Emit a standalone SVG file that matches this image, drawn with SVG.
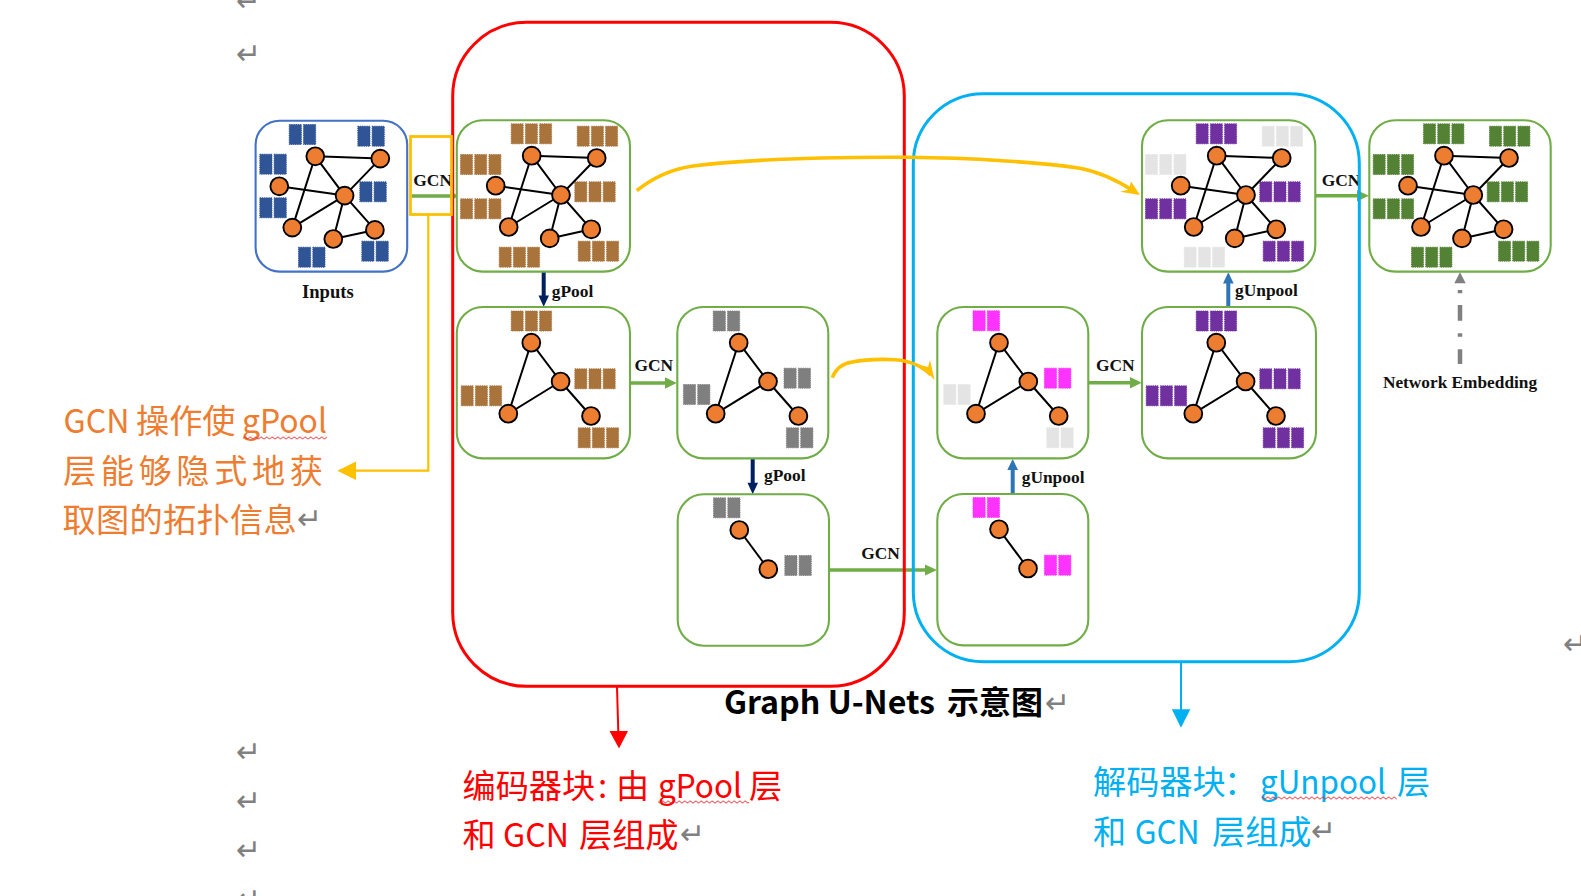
<svg xmlns="http://www.w3.org/2000/svg" xmlns:xlink="http://www.w3.org/1999/xlink" width="1581" height="896" viewBox="0 0 1581 896">
<style>
.box{fill:#fff;stroke:#70AD47;stroke-width:2.1}
.edge{stroke:#000;stroke-width:2;fill:none}
.dot{fill:#ED7D31;stroke:#000;stroke-width:1.9}
.cell{fill:currentColor;stroke:currentColor;stroke-width:1;stroke-dasharray:1.1 1.1}
.brown{color:#A9733C}.blue{color:#2F5597}.purple{color:#7030A0}.pale{color:#E4E4E4}.green{color:#548235}.gray{color:#7F7F7F}.pink{color:#FF33FF}
.lab{font-family:"Liberation Serif","Times New Roman",serif;font-weight:bold;font-size:17.4px;fill:#111}
.cn{font-family:"Noto Sans CJK SC","Noto Sans",sans-serif;font-size:33.2px;font-weight:400}
.ret{font-family:"Liberation Sans","DejaVu Sans",sans-serif;font-size:30px;fill:#808080}
.or{fill:#ED7D31}.rd{fill:#FF0000}.cy{fill:#00B0F0}
.title{font-family:"Noto Sans CJK SC","Noto Sans",sans-serif;font-size:32px;font-weight:700;fill:#000}
.gl{stroke:#70AD47;stroke-width:3.4;fill:none}
.fr{fill:none;stroke-width:3}
</style>
<defs>
<g id="b3"><rect class="cell" x="0.5" y="0.5" width="12" height="20"/><rect class="cell" x="14.7" y="0.5" width="12" height="20"/><rect class="cell" x="28.9" y="0.5" width="12" height="20"/></g>
<g id="b2"><rect class="cell" x="0.5" y="0.5" width="12.2" height="20"/><rect class="cell" x="14.8" y="0.5" width="12.2" height="20"/></g>
<g id="g7">
<path class="edge" d="M0,0L65,2.3M0,0L29.3,39.3M0,0L-23,71.3M-36,30L29.3,39.3M65,2.3L29.3,39.3M29.3,39.3L-23,71.3M29.3,39.3L18,82.7M29.3,39.3L59.6,73.6M18,82.7L59.6,73.6"/>
<circle class="dot" r="8.9"/><circle class="dot" cx="65" cy="2.3" r="8.9"/><circle class="dot" cx="-36" cy="30" r="8.9"/><circle class="dot" cx="29.3" cy="39.3" r="8.9"/><circle class="dot" cx="-23" cy="71.3" r="8.9"/><circle class="dot" cx="18" cy="82.7" r="8.9"/><circle class="dot" cx="59.6" cy="73.6" r="8.9"/>
</g>
<g id="g4">
<path class="edge" d="M0,0L29.3,38.8M0,0L-23,71M29.3,38.8L-23,71M29.3,38.8L59.7,73.3"/>
<circle class="dot" r="8.9"/><circle class="dot" cx="29.3" cy="38.8" r="8.9"/><circle class="dot" cx="-23" cy="71" r="8.9"/><circle class="dot" cx="59.7" cy="73.3" r="8.9"/>
</g>
<g id="g2"><path class="edge" d="M0,0L29,39.2"/><circle class="dot" r="8.9"/><circle class="dot" cx="29" cy="39.2" r="8.9"/></g>
<pattern id="sq" width="5.5" height="4" patternUnits="userSpaceOnUse"><path d="M0,3.2L2.75,0.8L5.5,3.2" fill="none" stroke="#E0202A" stroke-width="0.9"/></pattern>
</defs>
<rect width="1581" height="896" fill="#fff"/>

<g id="connectors">
<path class="gl" d="M411.7,196H451"/><path fill="#70AD47" d="M450,190.5L458,196L450,201.5Z"/>
<path class="gl" d="M630.7,383H666"/><path fill="#70AD47" d="M665,377.3L676.7,383L665,388.7Z"/>
<path class="gl" d="M829.3,570H925"/><path fill="#70AD47" d="M925,564.5L937,570L925,575.5Z"/>
<path class="gl" d="M1088.3,382.7H1131"/><path fill="#70AD47" d="M1130,377L1141.7,382.7L1130,388.4Z"/>
<path class="gl" d="M1315.3,195.7H1358"/><path fill="#70AD47" d="M1357,190.2L1369,195.7L1357,201.2Z"/>
<path stroke="#002060" stroke-width="4" d="M543.7,271.7V297"/><path fill="#002060" d="M538.5,295.5H549L543.7,306.7Z"/>
<path stroke="#002060" stroke-width="4" d="M752.7,458.3V484"/><path fill="#002060" d="M747.5,482.7H758L752.7,494.3Z"/>
<path stroke="#2E75B6" stroke-width="4" d="M1012.7,494V468"/><path fill="#2E75B6" d="M1007.3,470H1018L1012.7,459Z"/>
<path stroke="#2E75B6" stroke-width="4" d="M1228.3,307V282"/><path fill="#2E75B6" d="M1223,283.5H1233.7L1228.3,272.3Z"/>
<path stroke="#808080" stroke-width="4.5" d="M1460,290V293.3M1460,305V320.7M1460,333.3V336.7M1460,349.3V364"/><path fill="#808080" d="M1454.3,283.3H1465.7L1460,272.3Z"/>
</g>

<g id="node-inputs">
<rect class="box" style="stroke:#4472C4" x="255.6" y="120.8" width="151.6" height="150.8" rx="24"/>
<g class="blue"><use xlink:href="#b2" x="288.7" y="124"/><use xlink:href="#b2" x="357.3" y="125.7"/><use xlink:href="#b2" x="259.3" y="153.7"/><use xlink:href="#b2" x="359.3" y="181.3"/><use xlink:href="#b2" x="259.3" y="197.3"/><use xlink:href="#b2" x="298" y="246.7"/><use xlink:href="#b2" x="361.3" y="240.7"/></g>
<use xlink:href="#g7" x="315.3" y="156.3"/>
<text class="lab" x="302" y="297.6" style="font-size:18.6px">Inputs</text>
</g>

<g id="node-enc1">
<rect class="box" x="456.8" y="120.2" width="173.2" height="151.4" rx="26"/>
<g class="brown"><use xlink:href="#b3" x="510.7" y="123.3"/><use xlink:href="#b3" x="576.7" y="125.7"/><use xlink:href="#b3" x="460" y="154"/><use xlink:href="#b3" x="574.3" y="181.3"/><use xlink:href="#b3" x="460" y="198.3"/><use xlink:href="#b3" x="498.7" y="246.7"/><use xlink:href="#b3" x="577.7" y="240.7"/></g>
<use xlink:href="#g7" x="531.7" y="155.7"/>
</g>

<g id="node-enc2">
<rect class="box" x="456.8" y="307" width="173.2" height="151.4" rx="26"/>
<g class="brown"><use xlink:href="#b3" x="510.7" y="310.5"/><use xlink:href="#b3" x="574.3" y="368.3"/><use xlink:href="#b3" x="460.7" y="385.3"/><use xlink:href="#b3" x="577.7" y="427.3"/></g>
<use xlink:href="#g4" x="531.3" y="342.7"/>
</g>

<g id="node-enc3">
<rect class="box" x="677.3" y="307" width="151" height="151.4" rx="26"/>
<g class="gray"><use xlink:href="#b2" x="712.7" y="310.5"/><use xlink:href="#b2" x="783.5" y="367.7"/><use xlink:href="#b2" x="682.9" y="384"/><use xlink:href="#b2" x="785.9" y="427.3"/></g>
<use xlink:href="#g4" x="738.7" y="342.7"/>
</g>

<g id="node-enc4">
<rect class="box" x="677.7" y="494.3" width="151.3" height="151.4" rx="26"/>
<g class="gray"><use xlink:href="#b2" x="713" y="497.3"/><use xlink:href="#b2" x="784.3" y="555"/></g>
<use xlink:href="#g2" x="739.3" y="530"/>
</g>

<g id="node-dec4">
<rect class="box" x="937.3" y="494" width="151" height="151.4" rx="26"/>
<g class="pink"><use xlink:href="#b2" x="972.5" y="497"/><use xlink:href="#b2" x="1043.9" y="554.7"/></g>
<use xlink:href="#g2" x="999" y="529.3"/>
</g>

<g id="node-dec3">
<rect class="box" x="937.3" y="307" width="151" height="151.4" rx="26"/>
<g class="pink"><use xlink:href="#b2" x="972.5" y="310.3"/><use xlink:href="#b2" x="1043.9" y="367.7"/></g>
<g class="pale"><use xlink:href="#b2" x="943.2" y="384"/><use xlink:href="#b2" x="1046.2" y="427.3"/></g>
<use xlink:href="#g4" x="999" y="342.7"/>
</g>

<g id="node-dec2">
<rect class="box" x="1142" y="307" width="174" height="151.4" rx="26"/>
<g class="purple"><use xlink:href="#b3" x="1195.7" y="310.5"/><use xlink:href="#b3" x="1259.3" y="368.3"/><use xlink:href="#b3" x="1145.7" y="385.3"/><use xlink:href="#b3" x="1262.7" y="427.3"/></g>
<use xlink:href="#g4" x="1216.3" y="342.7"/>
</g>

<g id="node-dec1">
<rect class="box" x="1142" y="120.2" width="173.3" height="151.4" rx="26"/>
<g class="purple"><use xlink:href="#b3" x="1195.7" y="123.3"/><use xlink:href="#b3" x="1259.3" y="181.3"/><use xlink:href="#b3" x="1145" y="198.3"/><use xlink:href="#b3" x="1262.7" y="240.7"/></g>
<g class="pale"><use xlink:href="#b3" x="1261.7" y="125.7"/><use xlink:href="#b3" x="1145" y="154"/><use xlink:href="#b3" x="1183.7" y="246.7"/></g>
<use xlink:href="#g7" x="1216.7" y="155.7"/>
</g>

<g id="node-output">
<rect class="box" x="1369.3" y="120.2" width="181.4" height="151.4" rx="26"/>
<g class="green"><use xlink:href="#b3" x="1423" y="123.3"/><use xlink:href="#b3" x="1489" y="125.7"/><use xlink:href="#b3" x="1372.7" y="154"/><use xlink:href="#b3" x="1486.7" y="181.3"/><use xlink:href="#b3" x="1372.7" y="198.3"/><use xlink:href="#b3" x="1411" y="246.7"/><use xlink:href="#b3" x="1498" y="240.7"/></g>
<use xlink:href="#g7" x="1444" y="155.7"/>
<text class="lab" x="1460" y="387.6" text-anchor="middle" style="font-size:17.3px">Network Embedding</text>
</g>

<g id="edge-labels">
<text class="lab" x="413.3" y="185.6">GCN</text>
<text class="lab" x="634.5" y="371.2">GCN</text>
<text class="lab" x="861.2" y="559.3">GCN</text>
<text class="lab" x="1096" y="371">GCN</text>
<text class="lab" x="1321.7" y="185.6">GCN</text>
<text class="lab" x="551.7" y="296.6">gPool</text>
<text class="lab" x="764" y="481">gPool</text>
<text class="lab" x="1021.7" y="482.8">gUnpool</text>
<text class="lab" x="1235" y="296">gUnpool</text>
</g>

<g id="frames">
<rect id="encoder-frame" class="fr" stroke="#FF0000" x="452.7" y="22.3" width="451.6" height="664" rx="74"/>
<rect id="decoder-frame" class="fr" stroke="#00B0F0" x="913.3" y="93.7" width="446" height="568" rx="70"/>
<rect id="gcn-highlight" fill="none" stroke="#FFC000" stroke-width="2.8" x="410.5" y="136.5" width="41" height="78"/>
</g>

<g id="annotation-connectors">
<path fill="none" stroke="#FFC000" stroke-width="3.6" d="M636.7,190.7C655,176 672,169 693,166C760,158 850,157 906.7,157.3C970,158 1040,162 1080,168.3C1100,172 1120,182 1136,192.5"/>
<path fill="#FFC000" d="M1140,195L1120,191.7L1129,189.5L1131,181.5Z"/>
<path fill="none" stroke="#FFC000" stroke-width="3.6" d="M832.3,377.7C836,368 843,363.5 852,362C862,360 880,359 895,359.7C908,360.5 920,364 931,375"/>
<path fill="#FFC000" d="M934.5,380L920.5,365L928,367L930,360Z"/>
<path fill="none" stroke="#FFC000" stroke-width="2.2" d="M428.3,215V470.7H355"/>
<path fill="#FFC000" d="M337.3,470.7L356,461.4V480Z"/>
<path fill="none" stroke="#FF0000" stroke-width="2" d="M617,687L618.3,732"/>
<path fill="#FF0000" d="M609.5,731H628L619,748.5Z"/>
<path fill="none" stroke="#00B0F0" stroke-width="2" d="M1181,662V710"/>
<path fill="#00B0F0" d="M1171.8,709.3H1190.3L1181,727.7Z"/>
</g>

<g id="notes">
<text class="cn or" y="432.7"><tspan x="63.5" textLength="66" lengthAdjust="spacingAndGlyphs">GCN</tspan><tspan x="136">操作使</tspan><tspan x="242" textLength="85" lengthAdjust="spacingAndGlyphs">gPool</tspan></text>
<text class="cn or" x="63" y="483" letter-spacing="4.6">层能够隐式地获</text>
<text class="cn or" x="62.5" y="532" letter-spacing="0.3">取图的拓扑信息</text>
<rect x="243" y="435.7" width="84" height="4" fill="url(#sq)"/>
<text class="ret" x="297" y="529">↵</text>

<text class="cn rd" y="798"><tspan x="462.5">编码器块</tspan><tspan x="598">:</tspan><tspan x="616">由</tspan><tspan x="658" textLength="84" lengthAdjust="spacingAndGlyphs">gPool</tspan><tspan x="749">层</tspan></text>
<text class="cn rd" y="847"><tspan x="462.5">和</tspan><tspan x="503" textLength="66" lengthAdjust="spacingAndGlyphs">GCN</tspan><tspan x="579">层组成</tspan></text>
<rect x="658" y="800" width="91" height="4" fill="url(#sq)"/>
<text class="ret" x="680" y="844">↵</text>

<text class="cn cy" y="794"><tspan x="1093">解码器块</tspan><tspan x="1224">：</tspan><tspan x="1260" textLength="126" lengthAdjust="spacingAndGlyphs">gUnpool</tspan><tspan x="1397">层</tspan></text>
<text class="cn cy" y="844"><tspan x="1093">和</tspan><tspan x="1134.7" textLength="65" lengthAdjust="spacingAndGlyphs">GCN</tspan><tspan x="1212">层组成</tspan></text>
<rect x="1261.7" y="796" width="135" height="4" fill="url(#sq)"/>
<text class="ret" x="1311" y="841">↵</text>

<text class="title" y="714"><tspan x="724" textLength="211" lengthAdjust="spacingAndGlyphs">Graph U-Nets</tspan><tspan x="947">示意图</tspan></text>
<text class="ret" x="1045" y="713">↵</text>
</g>

<g id="page-marks">
<text class="ret" x="236" y="11">↵</text>
<text class="ret" x="236" y="64">↵</text>
<text class="ret" x="236" y="762">↵</text>
<text class="ret" x="236" y="811">↵</text>
<text class="ret" x="236" y="860">↵</text>
<text class="ret" x="236" y="909">↵</text>
<text class="ret" x="1563" y="654">↵</text>
</g>
</svg>
